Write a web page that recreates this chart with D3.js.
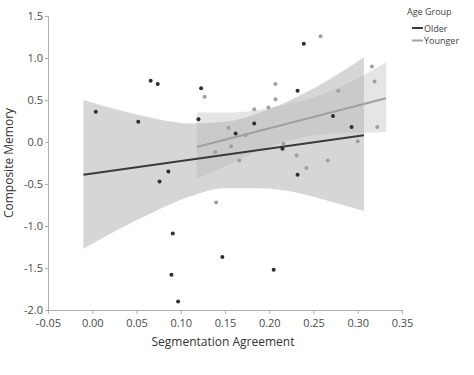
<!DOCTYPE html>
<html>
<head>
<meta charset="utf-8">
<script src="https://cdn.jsdelivr.net/npm/d3@7"></script>
<style>
  body { margin: 0; background: #fff; }
  text { font-family: "Open Sans", "Noto Sans", sans-serif; }
</style>
</head>
<body>
<div id="root"></div>
<script>
// scatter points
var olderX = [0.004, 0.052, 0.066, 0.074, 0.076, 0.086, 0.091, 0.0895, 0.097, 0.12, 0.123,
    0.147, 0.162, 0.183, 0.205, 0.215, 0.232, 0.232, 0.239, 0.272, 0.293];
var olderY = [0.36, 0.24, 0.73, 0.69, -0.47, -0.35, -1.09, -1.58, -1.90, 0.27, 0.64,
    -1.37, 0.10, 0.22, -1.52, -0.08, 0.61, -0.39, 1.17, 0.31, 0.18];

var youngerX = [0.127, 0.139, 0.140, 0.154, 0.157, 0.166, 0.173, 0.183, 0.199, 0.207, 0.207,
    0.216, 0.231, 0.242, 0.258, 0.266, 0.278, 0.300, 0.316, 0.319, 0.322];
var youngerY = [0.54, -0.12, -0.72, 0.17, -0.05, -0.22, 0.08, 0.39, 0.41, 0.69, 0.51,
    -0.02, -0.16, -0.31, 1.26, -0.22, 0.61, 0.01, 0.90, 0.72, 0.18];

// fit lines (ends) and confidence bands
var olderLineX = [-0.01, 0.307];
var olderLineY = [-0.39, 0.08];
var olderBandX = [-0.01, 0.03, 0.07, 0.11, 0.15, 0.19, 0.23, 0.27, 0.307];
var olderUpper = [0.50, 0.38, 0.28, 0.22, 0.24, 0.35, 0.53, 0.76, 1.01];
var olderLower = [-1.27, -1.04, -0.83, -0.65, -0.55, -0.55, -0.60, -0.71, -0.82];

var youngerLineX = [0.118, 0.332];
var youngerLineY = [-0.06, 0.52];
var youngerBandX = [0.118, 0.15, 0.18, 0.21, 0.24, 0.27, 0.30, 0.332];
var youngerUpper = [0.35, 0.35, 0.37, 0.43, 0.50, 0.61, 0.76, 0.95];
var youngerLower = [-0.44, -0.29, -0.14, -0.02, 0.06, 0.10, 0.11, 0.12];

var xTicks = [-0.05, 0, 0.05, 0.10, 0.15, 0.20, 0.25, 0.30, 0.35];
var yTicks = [1.5, 1.0, 0.5, 0.0, -0.5, -1.0, -1.5, -2.0];

var width = 474, height = 375;

var svg = d3.select("#root")
    .append("svg")
    .attr("width", width)
    .attr("height", height);

var x = d3.scaleLinear().domain([-0.05, 0.35]).range([48, 402]);
var y = d3.scaleLinear().domain([-2.0, 1.5]).range([310, 16]);

function band(xs, lo, hi) {
    return xs.map(function (d, i) { return { x: d, lo: lo[i], hi: hi[i] }; });
}

var area = d3.area()
    .x(function (d) { return x(d.x); })
    .y0(function (d) { return y(d.lo); })
    .y1(function (d) { return y(d.hi); })
    .curve(d3.curveMonotoneX);

svg.append("path")
    .datum(band(olderBandX, olderLower, olderUpper))
    .attr("d", area)
    .attr("fill", "#b4b4b4")
    .attr("fill-opacity", 0.55);

svg.append("path")
    .datum(band(youngerBandX, youngerLower, youngerUpper))
    .attr("d", area)
    .attr("fill", "#b4b4b4")
    .attr("fill-opacity", 0.35);

var line = d3.line()
    .x(function (d) { return x(d[0]); })
    .y(function (d) { return y(d[1]); });

svg.append("path")
    .datum(d3.zip(olderLineX, olderLineY))
    .attr("d", line)
    .attr("fill", "none")
    .attr("stroke", "#3a3a3a")
    .attr("stroke-width", 2);

svg.append("path")
    .datum(d3.zip(youngerLineX, youngerLineY))
    .attr("d", line)
    .attr("fill", "none")
    .attr("stroke", "#a0a0a0")
    .attr("stroke-width", 2);

svg.append("g").selectAll("circle")
    .data(d3.zip(youngerX, youngerY))
    .enter()
    .append("circle")
    .attr("cx", function (d) { return x(d[0]); })
    .attr("cy", function (d) { return y(d[1]); })
    .attr("r", 2)
    .attr("fill", "#a0a0a0");

svg.append("g").selectAll("circle")
    .data(d3.zip(olderX, olderY))
    .enter()
    .append("circle")
    .attr("cx", function (d) { return x(d[0]); })
    .attr("cy", function (d) { return y(d[1]); })
    .attr("r", 2)
    .attr("fill", "#2e2e2e");

// axes, hyphen instead of unicode minus like the original
var fx = d3.format(".2f"), fy = d3.format(".1f");
function hyph(f) { return function (d) { return f(d).replace("\u2212", "-"); }; }

var xAxis = svg.append("g")
    .attr("transform", "translate(0,310)")
    .call(d3.axisBottom(x).tickValues(xTicks).tickFormat(hyph(fx)).tickSizeOuter(0).tickSize(4));

var yAxis = svg.append("g")
    .attr("transform", "translate(48,0)")
    .call(d3.axisLeft(y).tickValues(yTicks).tickFormat(hyph(fy)).tickSizeOuter(0).tickSize(3));

[xAxis, yAxis].forEach(function (g) {
    g.select(".domain").attr("stroke", "#b0b0b0");
    g.selectAll(".tick line").attr("stroke", "#b0b0b0");
    g.selectAll(".tick text")
        .attr("fill", "#4a4a4a")
        .style("font-size", "11px")
        .style("font-family", "'Open Sans', sans-serif");
});
xAxis.selectAll(".tick text").attr("dy", "0.9em");
yAxis.selectAll(".tick text").attr("x", -5);

svg.append("text")
    .attr("x", 223)
    .attr("y", 346)
    .attr("text-anchor", "middle")
    .attr("fill", "#333")
    .style("font-size", "12px")
    .text("Segmentation Agreement");

svg.append("text")
    .attr("transform", "translate(13,163) rotate(-90)")
    .attr("text-anchor", "middle")
    .attr("fill", "#333")
    .style("font-size", "12px")
    .text("Composite Memory");

// legend
var legend = svg.append("g").attr("transform", "translate(407,0)");
legend.append("text")
    .attr("x", 0)
    .attr("y", 15)
    .attr("fill", "#444")
    .style("font-size", "9px")
    .text("Age Group");

var groups = [["Older", "#3a3a3a"], ["Younger", "#a0a0a0"]];
groups.forEach(function (g, i) {
    var yy = 28 + i * 12.5;
    legend.append("line")
        .attr("x1", 5).attr("x2", 16)
        .attr("y1", yy).attr("y2", yy)
        .attr("stroke", g[1])
        .attr("stroke-width", 2);
    legend.append("text")
        .attr("x", 17)
        .attr("y", yy + 3.5)
        .attr("fill", "#444")
        .style("font-size", "9px")
        .text(g[0]);
});
</script>
</body>
</html>
